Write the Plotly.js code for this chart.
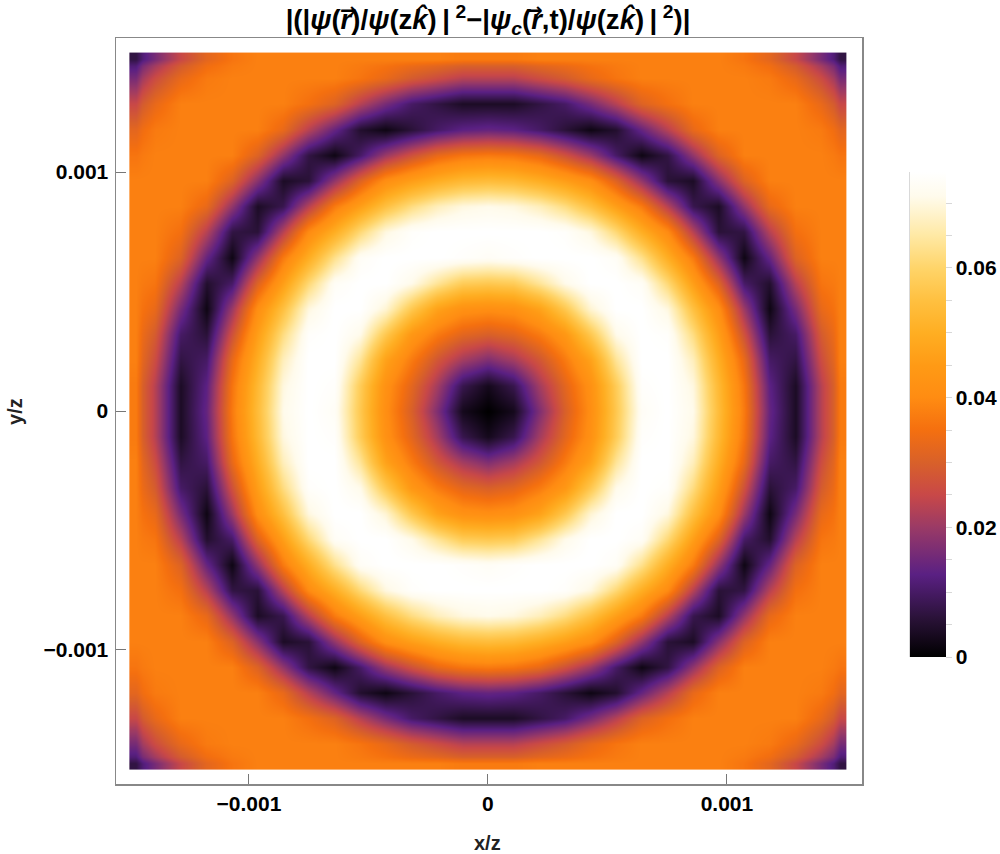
<!DOCTYPE html>
<html>
<head>
<meta charset="utf-8">
<script src="https://cdn.plot.ly/plotly-3.0.1.min.js"></script>
<style>
  html, body { margin: 0; padding: 0; background: #fff; }
  #chart { width: 1000px; height: 854px; }
</style>
</head>
<body>
<div id="chart"></div>
<script>
// Cell edges of the sampled grid, in x/z and y/z (the outer two cells are half width)
const gridEdges = [-0.0015, -0.0014464, -0.0013393, -0.0012321, -0.001125, -0.0010179, -0.0009107, -0.0008036,
  -0.0006964, -0.0005893, -0.0004821, -0.000375, -0.0002679, -0.0001607, -0.0000536,
  0.0000536, 0.0001607, 0.0002679, 0.000375, 0.0004821, 0.0005893, 0.0006964,
  0.0008036, 0.0009107, 0.0010179, 0.001125, 0.0012321, 0.0013393, 0.0014464, 0.0015];

// One quadrant, in thousandths, from the centre outwards
// The picture is symmetric, so the other three are mirrored from this one
const zQuadrant = [
  [ 0,  3, 17, 30, 41, 57, 73, 75, 71, 54, 37, 14,  4, 23, 37],
  [ 3,  8, 21, 32, 42, 58, 74, 75, 70, 53, 36, 13,  4, 23, 37],
  [17, 21, 28, 37, 47, 64, 75, 75, 67, 50, 33, 10,  7, 26, 38],
  [30, 32, 37, 44, 57, 71, 75, 74, 62, 46, 27,  6, 10, 29, 38],
  [41, 42, 47, 57, 69, 75, 75, 70, 55, 41, 20,  2, 16, 33, 38],
  [57, 58, 64, 71, 75, 75, 73, 61, 46, 31, 10,  5, 23, 36, 38],
  [73, 74, 75, 75, 75, 73, 63, 50, 37, 19,  2, 14, 31, 38, 38],
  [75, 75, 75, 74, 70, 61, 50, 40, 23,  6,  7, 23, 35, 38, 38],
  [71, 70, 67, 62, 55, 46, 37, 23,  8,  4, 19, 33, 38, 38, 38],
  [54, 53, 50, 46, 41, 31, 19,  6,  4, 18, 31, 38, 38, 38, 38],
  [37, 36, 33, 27, 20, 10,  2,  7, 19, 31, 38, 38, 38, 38, 36],
  [14, 13, 10,  6,  2,  5, 14, 23, 33, 38, 38, 38, 38, 37, 32],
  [ 4,  4,  7, 10, 16, 23, 31, 35, 38, 38, 38, 38, 38, 33, 25],
  [23, 23, 26, 29, 33, 36, 38, 38, 38, 38, 38, 37, 33, 26, 16],
  [37, 37, 38, 38, 38, 38, 38, 38, 38, 38, 36, 32, 25, 16,  7]
];

const axisTickVals = [-0.001, 0, 0.001];
const axisTickText = ['\u22120.001', '0', '0.001'];
const barTickVals = [0, 0.005, 0.01, 0.015, 0.02, 0.025, 0.03, 0.035, 0.04, 0.045, 0.05, 0.055, 0.06, 0.065, 0.07];
const barTickText = ['0', '', '', '', '0.02', '', '', '', '0.04', '', '', '', '0.06', '', ''];

const sunset = [
  [0, '#000000'],
  [0.08, '#2a1238'],
  [0.17, '#5a2083'],
  [0.267, '#9a3a66'],
  [0.334, '#c84848'],
  [0.40, '#d8602a'],
  [0.47, '#f5700f'],
  [0.535, '#ff8c12'],
  [0.60, '#ff9a15'],
  [0.668, '#ffae22'],
  [0.735, '#ffc040'],
  [0.80, '#ffd468'],
  [0.87, '#ffe9a5'],
  [0.95, '#fffbec'],
  [1, '#ffffff']
];

const font = 'Liberation Sans, Arial, sans-serif';
const hatK = '<i>k\u0302</i>';
const psi = '<i>\u03c8</i>';
const bar = '|\u2009';
const titleText = '|(|' + psi + '(<i>r</i>)/' + psi + '(z' + hatK + ')\u2009' + bar + '<sup>2</sup>\u2212|' +
  psi + '<sub><i>c</i></sub>(<i>r</i>,t)/' + psi + '(z' + hatK + ')\u2009' + bar + '<sup>2</sup>)|';

// Mirror the quadrant into the full grid
function fullRows() {
  const rows = zQuadrant.map(q => {
    const row = q.slice(1).reverse().concat(q);
    return row.map(v => v / 1000);
  });
  return rows.slice(1).reverse().concat(rows);
}

const trace = {
  type: 'heatmap',
  x: gridEdges,
  y: gridEdges,
  z: fullRows(),
  zsmooth: 'best',
  zmin: 0,
  zmax: 0.0748,
  colorscale: sunset,
  colorbar: {
    x: 1.0643,
    xanchor: 'left',
    xpad: 0,
    y: 0.1702,
    yanchor: 'bottom',
    ypad: 0,
    thickness: 36,
    thicknessmode: 'pixels',
    len: 485,
    lenmode: 'pixels',
    outlinewidth: 0,
    tickmode: 'array',
    tickvals: barTickVals,
    ticktext: barTickText,
    ticks: 'outside',
    ticklen: 6,
    tickwidth: 1,
    tickcolor: '#d8d8d8',
    tickfont: { family: font, size: 21, color: '#000', weight: 'bold' }
  }
};

function axis(range, labelShift) {
  return {
    range: range,
    tickmode: 'array',
    tickvals: axisTickVals,
    ticktext: axisTickText,
    ticks: 'inside',
    ticklen: 10,
    tickwidth: 1,
    tickcolor: '#777',
    ticklabelstandoff: labelShift,
    tickfont: { family: font, size: 21, color: '#000', weight: 'bold' },
    showline: true,
    linecolor: '#888',
    linewidth: 1.5,
    mirror: true,
    showgrid: false,
    zeroline: false
  };
}

function paperText(text, x, y, size, extra) {
  return Object.assign({
    text: text, xref: 'paper', yref: 'paper', x: x, y: y, showarrow: false,
    xanchor: 'center', yanchor: 'middle',
    font: { family: font, size: size, color: '#222', weight: 'bold' }
  }, extra || {});
}

const arrowFont = { family: 'DejaVu Sans', size: 20, color: '#000', weight: 'bold' };

const layout = {
  width: 1000,
  height: 854,
  paper_bgcolor: '#fff',
  plot_bgcolor: '#fff',
  margin: { l: 116, r: 138, t: 38, b: 70, pad: 0, autoexpand: false },
  title: {
    text: titleText,
    font: { family: font, size: 27.5, color: '#000', weight: 'bold' },
    x: 0.488,
    xanchor: 'center',
    y: 0.988,
    yanchor: 'top'
  },
  xaxis: axis([-0.001556, 0.001565], 0),
  yaxis: axis([-0.001561, 0.001561], 2),
  annotations: [
    paperText('x/z', 0.4986, -0.0788, 20),
    paperText('y/z', -0.1354, 0.5, 20, { textangle: -90 }),
    // arrows over the two r vectors in the title
    paperText('\u2192', 0.3110, 1.0376, 20, { font: arrowFont }),
    paperText('\u2192', 0.5604, 1.0376, 20, { font: arrowFont })
  ],
  shapes: [
    // light rule down the left side of the colour bar
    { type: 'line', xref: 'paper', yref: 'paper', x0: 1.0643, x1: 1.0643, y0: 0.1702, y1: 0.8204,
      line: { color: '#cfcfcf', width: 1.5 } }
  ],
  showlegend: false
};

Plotly.newPlot('chart', [trace], layout, { displayModeBar: false, staticPlot: true });
</script>
</body>
</html>
